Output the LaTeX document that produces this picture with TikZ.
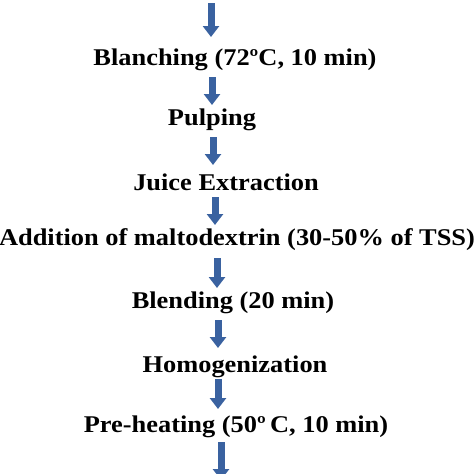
\documentclass[tikz,border=0pt]{standalone}
\usepackage{fontspec}
\setmainfont{Liberation Serif}
\usetikzlibrary{arrows.meta}
\definecolor{arrowblue}{HTML}{3A62A0}
\begin{document}
\begin{tikzpicture}[x=1pt,y=-1pt,
  step label/.style={anchor=base,inner sep=0pt,font=\bfseries\fontsize{24}{28}\selectfont,xscale=1.1},
  flow arrow/.style={draw=arrowblue,line width=7pt,
    -{Triangle[width=16pt,length=11pt,fill=arrowblue]}}]
\useasboundingbox (0,0) rectangle (474,474);
\node[step label] (blanch) at (235,65) {Blanching (72ºC, 10 min)};
\node[step label] (pulp) at (212,125) {Pulping};
\node[step label] (juice) at (226,190) {Juice Extraction};
\node[step label] (add) at (237,245) {Addition of maltodextrin (30-50\% of TSS)};
\node[step label] (blend) at (233,308) {Blending (20 min)};
\node[step label] (homo) at (235,372) {Homogenization};
\node[step label] (pre) at (236,432) {Pre-heating (50º\,C, 10 min)};
\coordinate (a1s) at (211,3);   \coordinate (a1e) at (211,37);
\coordinate (a2s) at (212,77);  \coordinate (a2e) at (212,105);
\coordinate (a3s) at (213,137); \coordinate (a3e) at (213,165);
\coordinate (a4s) at (215,197); \coordinate (a4e) at (215,225);
\coordinate (a5s) at (217,258); \coordinate (a5e) at (217,288);
\coordinate (a6s) at (218,320); \coordinate (a6e) at (218,348);
\coordinate (a7s) at (218,379); \coordinate (a7e) at (218,409);
\coordinate (a8s) at (221,442); \coordinate (a8e) at (221,480);
\draw[flow arrow] (a1s) -- (a1e);
\draw[flow arrow] (a2s) -- (a2e);
\draw[flow arrow] (a3s) -- (a3e);
\draw[flow arrow] (a4s) -- (a4e);
\draw[flow arrow] (a5s) -- (a5e);
\draw[flow arrow] (a6s) -- (a6e);
\draw[flow arrow] (a7s) -- (a7e);
\draw[flow arrow] (a8s) -- (a8e);
\end{tikzpicture}
\end{document}
